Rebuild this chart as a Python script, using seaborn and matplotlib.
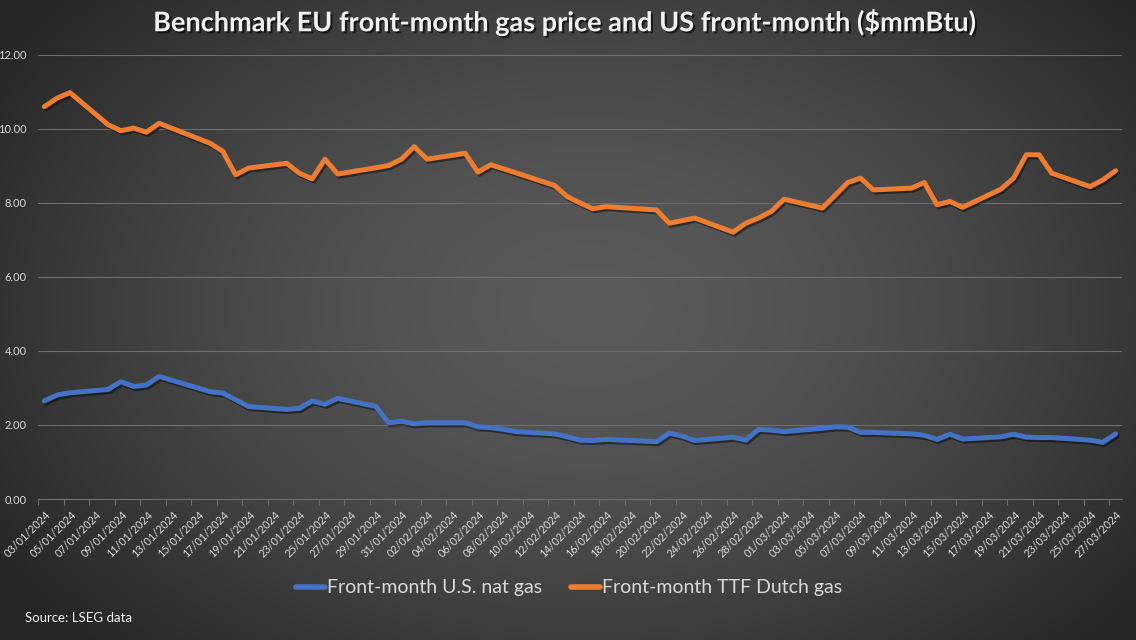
import numpy as np
import pandas as pd
import matplotlib
matplotlib.use("Agg")
import matplotlib.pyplot as plt
import matplotlib.dates as mdates
import matplotlib.patheffects as pe
import matplotlib.transforms as mtransforms
import seaborn as sns

# Datos (dias de mercado)
fechas = [
    "2024-01-03", "2024-01-04", "2024-01-05", "2024-01-08", "2024-01-09", "2024-01-10",
    "2024-01-11", "2024-01-12", "2024-01-16", "2024-01-17", "2024-01-18", "2024-01-19",
    "2024-01-22", "2024-01-23", "2024-01-24", "2024-01-25", "2024-01-26", "2024-01-29",
    "2024-01-30", "2024-01-31", "2024-02-01", "2024-02-02", "2024-02-05", "2024-02-06",
    "2024-02-07", "2024-02-08", "2024-02-09", "2024-02-12", "2024-02-13", "2024-02-14",
    "2024-02-15", "2024-02-16", "2024-02-20", "2024-02-21", "2024-02-22", "2024-02-23",
    "2024-02-26", "2024-02-27", "2024-02-28", "2024-02-29", "2024-03-01", "2024-03-04",
    "2024-03-05", "2024-03-06", "2024-03-07", "2024-03-08", "2024-03-11", "2024-03-12",
    "2024-03-13", "2024-03-14", "2024-03-15", "2024-03-18", "2024-03-19", "2024-03-20",
    "2024-03-21", "2024-03-22", "2024-03-25", "2024-03-26", "2024-03-27",
]
us_gas = [
    2.65, 2.81, 2.87, 2.96, 3.17, 3.04,
    3.08, 3.31, 2.90, 2.86, 2.68, 2.50,
    2.42, 2.45, 2.65, 2.56, 2.72, 2.50,
    2.06, 2.10, 2.03, 2.06, 2.06, 1.95,
    1.93, 1.88, 1.82, 1.76, 1.68, 1.59,
    1.58, 1.61, 1.55, 1.78, 1.70, 1.58,
    1.67, 1.59, 1.88, 1.86, 1.82, 1.91,
    1.95, 1.94, 1.80, 1.80, 1.76, 1.72,
    1.61, 1.75, 1.62, 1.68, 1.75, 1.67,
    1.66, 1.66, 1.59, 1.53, 1.76,
]
ttf_gas = [
    10.60, 10.83, 10.98, 10.11, 9.95, 10.02,
    9.91, 10.15, 9.61, 9.39, 8.76, 8.94,
    9.07, 8.80, 8.65, 9.18, 8.78, 8.95,
    9.01, 9.18, 9.52, 9.18, 9.34, 8.83,
    9.03, 8.92, 8.81, 8.47, 8.17, 8.00,
    7.84, 7.90, 7.81, 7.45, 7.52, 7.59,
    7.21, 7.45, 7.59, 7.77, 8.10, 7.86,
    8.20, 8.55, 8.67, 8.35, 8.40, 8.55,
    7.95, 8.04, 7.88, 8.37, 8.67, 9.30,
    9.30, 8.80, 8.44, 8.62, 8.87,
]
series_names = ["Front-month U.S. nat gas", "Front-month TTF Dutch gas"]
colors = ["#4472C4", "#ED7D31"]

# Eje de fechas estilo Excel: cada punto en el centro de su dia
x_dates = pd.to_datetime(fechas) + pd.Timedelta(hours=12)
df = pd.DataFrame({
    "fecha": list(x_dates) * 2,
    "precio": us_gas + ttf_gas,
    "serie": [series_names[0]] * len(fechas) + [series_names[1]] * len(fechas),
})

sns.set_theme(style="dark")
plt.rcParams["font.family"] = ["Lato", "DejaVu Sans"]

fig = plt.figure(figsize=(11.36, 6.4), dpi=100)

# Fondo con degradado radial
bg = fig.add_axes([0, 0, 1, 1], zorder=0)
yy, xx = np.mgrid[0:1:320j, 0:1:568j]
r = np.sqrt(((xx - 0.52) / 0.62) ** 2 + ((yy - 0.48) / 0.75) ** 2)
shade = 0x5a - (0x5a - 0x26) * np.clip(r, 0, 1) ** 1.6
img = np.dstack([shade / 255.0] * 3)
bg.imshow(img, aspect="auto", extent=[0, 1, 0, 1], interpolation="bilinear")
bg.axis("off")

ax = fig.add_axes([38 / 1136, 0.2203, 1084 / 1136, 0.694], zorder=1)
ax.patch.set_alpha(0)

sns.lineplot(data=df, x="fecha", y="precio", hue="serie", palette=colors,
             linewidth=3.6, ax=ax, legend=True)
for line in ax.lines:
    line.set_solid_capstyle("round")
    line.set_solid_joinstyle("round")
    line.set_path_effects([pe.SimpleLineShadow(offset=(1.2, -1.5), shadow_color="black", alpha=0.45),
                           pe.Normal()])

ax.set_ylim(0, 12)
ax.set_yticks(np.arange(0, 12.01, 2))
ax.yaxis.set_major_formatter(matplotlib.ticker.FormatStrFormatter("%.2f"))
ax.set_xlim(pd.Timestamp("2024-01-03"), pd.Timestamp("2024-03-28"))
ticks = pd.date_range("2024-01-03", "2024-03-27", freq="2D")
ax.set_xticks(ticks)
ax.xaxis.set_major_formatter(mdates.DateFormatter("%d/%m/%Y"))

ax.grid(axis="y", color="#6e6e6e", linewidth=0.8)
ax.grid(axis="x", visible=False)
for s in ["top", "right", "left"]:
    ax.spines[s].set_visible(False)
ax.spines["bottom"].set_color("#6e6e6e")
ax.spines["bottom"].set_linewidth(0.8)
ax.tick_params(axis="x", colors="#d9d9d9", labelsize=7.8, length=4, color="#6e6e6e",
               width=0.8, bottom=True, pad=1)
ax.tick_params(axis="y", colors="#d9d9d9", labelsize=8, length=0, pad=8)
# etiquetas centradas en la casilla del dia, como en Excel
shift = mtransforms.ScaledTranslation(7 / 100, -3 / 100, fig.dpi_scale_trans)
for lab in ax.get_xticklabels():
    lab.set_rotation(45)
    lab.set_ha("right")
    lab.set_rotation_mode("anchor")
    lab.set_transform(lab.get_transform() + shift)
ax.set_xlabel("")
ax.set_ylabel("")

leg = ax.legend(loc="center", bbox_to_anchor=(0.49, -0.2), ncol=2, frameon=False,
                fontsize=14, handlelength=1.5, columnspacing=1.5, handletextpad=0.1)
for t in leg.get_texts():
    t.set_color("#d9d9d9")
for h in leg.legend_handles:
    h.set_linewidth(4)
    h.set_path_effects([])

fig.text(0.497, 0.965, "Benchmark EU front-month gas price and US front-month ($mmBtu)",
         ha="center", va="center", fontsize=19.5, fontweight="bold", color="#f2f2f2",
         path_effects=[pe.withSimplePatchShadow(offset=(1.5, -1.5), shadow_rgbFace="black", alpha=0.6)])
fig.text(0.022, 0.034, "Source: LSEG data", ha="left", va="center", fontsize=9.5, color="#f2f2f2")

fig.savefig("out.png", dpi=100)
